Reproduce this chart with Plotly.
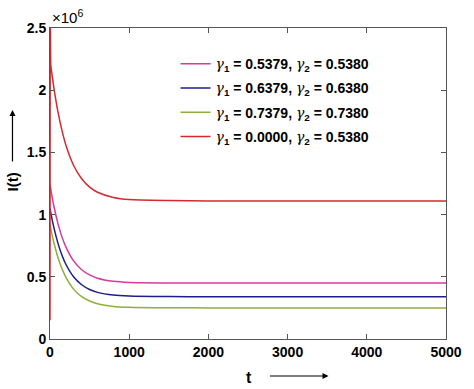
import plotly.graph_objects as go

# time samples
t = [0, 25, 50, 100, 150, 200, 300, 400, 500, 600, 800, 1000, 1500, 2000, 3000, 4000, 5000]
# values in units of 10^6
I_a = [1.24, 1.147, 1.065, 0.929, 0.823, 0.741, 0.626, 0.557, 0.515, 0.489, 0.464, 0.455, 0.451, 0.45, 0.45, 0.45, 0.45]
I_b = [1.05, 0.966, 0.893, 0.771, 0.675, 0.601, 0.498, 0.436, 0.398, 0.375, 0.353, 0.345, 0.341, 0.34, 0.34, 0.34, 0.34]
I_c = [0.92, 0.841, 0.772, 0.657, 0.566, 0.497, 0.399, 0.340, 0.305, 0.283, 0.262, 0.255, 0.251, 0.25, 0.25, 0.25, 0.25]
t_red = [0, 4, 10, 25, 50, 100, 150, 200, 300, 400, 500, 600, 800, 1000, 1500, 2000, 3000, 4000, 5000]
I_d = [0.15, 2.6, 2.2, 2.127, 2.015, 1.827, 1.679, 1.560, 1.393, 1.288, 1.221, 1.180, 1.138, 1.121, 1.113, 1.11, 1.11, 1.11, 1.11]

G = "<span style=\"font-family:'DejaVu Serif';font-style:italic;font-weight:normal\">γ</span>"
names = [
    f"{G}<sub>1</sub> = 0.5379, {G}<sub>2</sub> = 0.5380",
    f"{G}<sub>1</sub> = 0.6379, {G}<sub>2</sub> = 0.6380",
    f"{G}<sub>1</sub> = 0.7379, {G}<sub>2</sub> = 0.7380",
    f"{G}<sub>1</sub> = 0.0000, {G}<sub>2</sub> = 0.5380",
]
colors = ["#d63a9c", "#1c1f8a", "#8fae3c", "#d42a2f"]
xs = [t, t, t, t_red]
ys = [I_a, I_b, I_c, I_d]

fig = go.Figure()
for i, (x, y, n, c) in enumerate(zip(xs, ys, names, colors)):
    fig.add_trace(go.Scatter(x=x, y=y, mode="lines", name=n, legendgroup=f"g{i}",
                             line=dict(color=c, width=1.5, shape="spline", smoothing=0.6)))

axis_common = dict(showline=True, linecolor="#555555", linewidth=1, mirror="ticks",
                   ticks="inside", ticklen=5, tickcolor="#555555", showgrid=False,
                   zeroline=False,
                   tickfont=dict(family="Liberation Sans, Arial", size=14, color="black", weight="bold"))

fig.update_xaxes(range=[0, 5000], tickvals=[0, 1000, 2000, 3000, 4000, 5000], **axis_common)
fig.update_yaxes(range=[0, 2.5], tickvals=[0, 0.5, 1, 1.5, 2, 2.5], **axis_common)

fig.update_layout(
    width=474, height=389,
    margin=dict(l=50, r=23, t=28, b=50),
    paper_bgcolor="white", plot_bgcolor="white",
    font=dict(family="Liberation Sans, Arial", color="black"),
    legend=dict(x=0.317, y=0.935, xanchor="left", yanchor="top",
                bgcolor="rgba(0,0,0,0)", borderwidth=0, itemwidth=30,
                tracegroupgap=3, traceorder="grouped",
                font=dict(family="Liberation Sans, Arial", size=14, color="black", weight="bold")),
    showlegend=True,
)

fig.add_annotation(text="×10<sup>6</sup>", xref="paper", yref="paper", x=0, y=1.0,
                   xanchor="left", yanchor="bottom", showarrow=False,
                   font=dict(size=15, color="black"))
# axis labels with arrows
fig.add_annotation(text="<b>t</b>", xref="paper", yref="paper", x=(252-50)/401, y=-(377-339)/311,
                   xanchor="center", yanchor="middle", showarrow=False, font=dict(size=16))
fig.add_annotation(x=(332-50)/401, y=-(376-339)/311, ax=-60, ay=0,
                   xref="paper", yref="paper", axref="pixel", ayref="pixel", text="",
                   showarrow=True, arrowhead=2, arrowsize=1, arrowwidth=1.2, arrowcolor="black")
fig.add_annotation(text="<b>I(t)</b>", xref="paper", yref="paper", x=-(50-12)/401, y=(339-182)/311,
                   xanchor="center", yanchor="middle", showarrow=False, textangle=-90,
                   font=dict(size=15))
fig.add_annotation(x=-(50-12)/401, y=(339-110)/311, ax=0, ay=53,
                   xref="paper", yref="paper", axref="pixel", ayref="pixel", text="",
                   showarrow=True, arrowhead=2, arrowsize=1, arrowwidth=1.2, arrowcolor="black")

fig.write_html("out.html", config={"displayModeBar": False},
               post_script="document.body.style.margin='0px';")
